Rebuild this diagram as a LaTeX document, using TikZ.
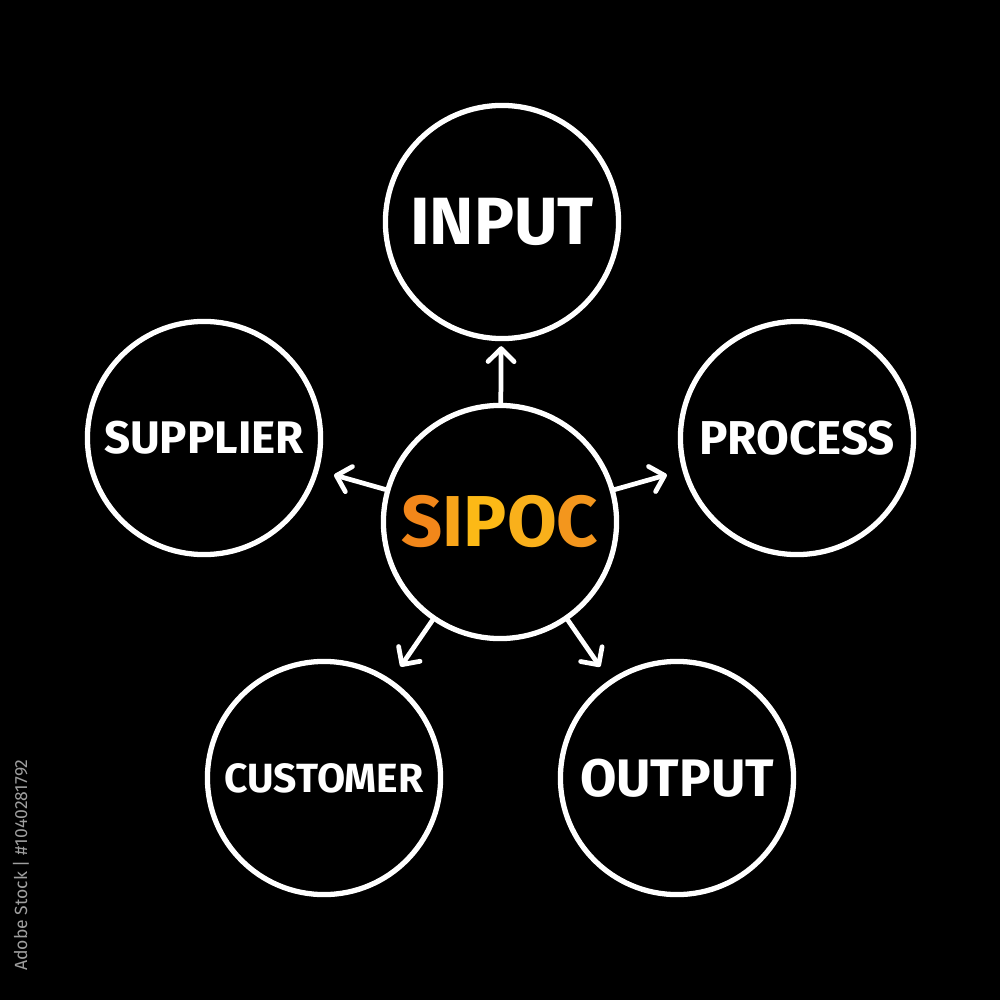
\documentclass[tikz,border=0pt]{standalone}
\usepackage{fontspec}
\setmainfont{Fira Sans}
\usetikzlibrary{arrows.meta}
\definecolor{sipocA}{RGB}{242,135,26}
\definecolor{sipocB}{RGB}{248,165,26}
\definecolor{sipocC}{RGB}{252,185,22}
\definecolor{sipocD}{RGB}{249,176,27}
\definecolor{sipocE}{RGB}{243,150,29}
\begin{document}
\begin{tikzpicture}[x=0.01cm, y=-0.01cm,
    bubble/.style={circle, draw=white, line width=1.5pt, minimum size=2.33cm, inner sep=0pt, text=white, font=\bfseries},
    link/.style={draw=white, line width=1.35pt, line cap=round, shorten >=0.16cm, -{Straight Barb[length=1.3mm, width=2.6mm, line cap=round, line join=round]}}]
    \fill[black] (0,0) rectangle (1000,1000);
    \useasboundingbox (0,0) rectangle (1000,1000);
    % circles
    \node[bubble] (sipoc) at (500,522) {\fontsize{20.5}{24}\selectfont\textcolor{sipocA}{S}\textcolor{sipocB}{I}\textcolor{sipocC}{P}\textcolor{sipocD}{O}\textcolor{sipocE}{C}};
    \node[bubble, font=\bfseries\fontsize{19}{22}\selectfont] (input) at (502,222) {INPUT};
    \node[bubble, font=\bfseries\fontsize{13}{16}\selectfont] (supplier) at (204,438) {SUPPLIER};
    \node[bubble, font=\bfseries\fontsize{13.5}{16}\selectfont] (process) at (797,438) {PROCESS};
    \node[bubble, font=\bfseries\fontsize{11.6}{14}\selectfont] (customer) at (324,778) {CUSTOMER};
    \node[bubble, font=\bfseries\fontsize{15}{18}\selectfont] (output) at (677,778) {OUTPUT};
    % arrows
    \draw[link, shorten >=0.05cm] (sipoc) -- (input);
    \draw[link] (sipoc) -- (supplier);
    \draw[link] (sipoc) -- (process);
    \draw[link] (sipoc) -- (customer);
    \draw[link] (sipoc) -- (output);
    \node[rotate=90, text=gray!75, font=\fontsize{5}{6}\selectfont] (stockid) at (21,865) {Adobe Stock | \#1040281792};
\end{tikzpicture}
\end{document}
